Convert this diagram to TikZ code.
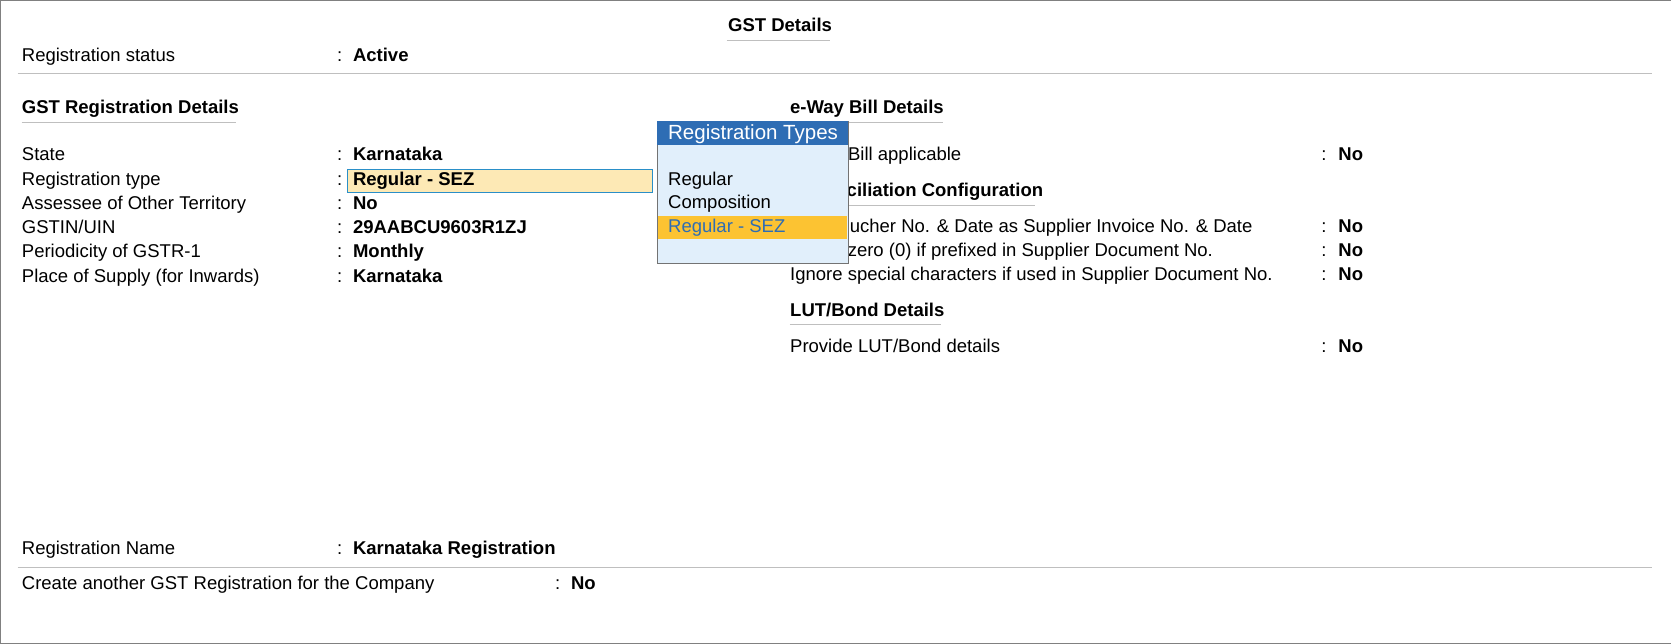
\documentclass[tikz,border=0pt]{standalone}
\usepackage{fontspec}
\setmainfont{Liberation Sans}
\definecolor{hdrblue}{HTML}{2E6DB4}
\definecolor{popbg}{HTML}{E1EFFB}
\definecolor{selbar}{HTML}{FCC332}
\definecolor{fieldbg}{HTML}{FDE9B5}
\definecolor{fieldline}{HTML}{2A8FC8}
\newcommand{\rulecol}{black!25}
\tikzset{
  lbl/.style={anchor=base west, inner sep=0pt, font=\fontsize{18.5}{22}\selectfont},
  val/.style={lbl, font=\fontsize{18.5}{22}\selectfont\bfseries},
  hd/.style={val}
}
\begin{document}
\begin{tikzpicture}[x=1pt, y=-1pt]

        \draw[draw=black!50, fill=white] (0.5, 0.5) rectangle (1670.5, 643.5);

        % title
        \node[hd] (title) at (728, 32) {GST Details};
        \draw[draw=\rulecol] (727, 40) -- (830, 40);

        \node[lbl] (st) at (22, 62) {Registration status};
        \node[lbl] (stc) at (337, 62) {:};
        \node[val] (stv) at (353, 62) {Active};
        \draw[draw=\rulecol] (18, 73) -- (1652, 73);

        % gauche
        \node[hd] (regh) at (22, 114) {GST Registration Details};
        \draw[draw=\rulecol] (22, 122) -- (236, 122);

        \draw[fill=fieldbg, draw=fieldline] (347, 169) rectangle (652, 192);

        \foreach \y/\t/\v [count=\i] in {161/State/Karnataka,
            186/Registration type/Regular - SEZ,
            210/Assessee of Other Territory/No,
            234/{GSTIN/UIN}/29AABCU9603R1ZJ,
            258/Periodicity of GSTR-1/Monthly,
            283/Place of Supply (for Inwards)/Karnataka} {
          \node[lbl] (l\i) at (22, \y) {\t};
          \node[lbl] (c\i) at (337, \y) {:};
          \node[val] (v\i) at (353, \y) {\v};
        }

        % droite
        \node[hd] (ewh) at (790, 114) {e-Way Bill Details};
        \draw[draw=\rulecol] (790, 122) -- (943, 122);
        \node[lbl] (ew) at (790, 161) {e-Way Bill applicable};
        \node[lbl] (ewc) at (1321, 161) {:};
        \node[val] (ewv) at (1338, 161) {No};

        \node[hd] (rch) at (790, 197) {Reconciliation Configuration};
        \draw[draw=\rulecol] (790, 205) -- (1035, 205);
        \foreach \y/\t [count=\i] in {233/Use Voucher No. \& Date as Supplier Invoice No. \& Date,
            257/Ignore zero (0) if prefixed in Supplier Document No.,
            281/Ignore special characters if used in Supplier Document No.} {
          \node[lbl] (r\i) at (790, \y) {\t};
          \node[lbl] (rc\i) at (1321, \y) {:};
          \node[val] (rv\i) at (1338, \y) {No};
        }

        \node[hd] (luth) at (790, 317) {LUT/Bond Details};
        \draw[draw=\rulecol] (790, 324) -- (941, 324);
        \node[lbl] (lut) at (790, 353) {Provide LUT/Bond details};
        \node[lbl] (lutc) at (1321, 353) {:};
        \node[val] (lutv) at (1338, 353) {No};

        % bas
        \node[lbl] (rn) at (22, 555) {Registration Name};
        \node[lbl] (rnc) at (337, 555) {:};
        \node[val] (rnv) at (353, 555) {Karnataka Registration};
        \draw[draw=\rulecol] (18, 567) -- (1652, 567);
        \node[lbl] (ca) at (22, 590) {Create another GST Registration for the Company};
        \node[lbl] (cac) at (555, 590) {:};
        \node[val] (cav) at (571, 590) {No};

        % liste
        \draw[fill=popbg, draw=black!55] (657, 121) rectangle (848, 263);
        \draw[fill=hdrblue, draw=none] (657, 121) rectangle (848, 145);
        \node[lbl, white, font=\fontsize{20.5}{24}\selectfont] (pt) at (668, 140) {Registration Types};
        \draw[fill=selbar, draw=none] (658, 216) rectangle (847, 239);
        \node[lbl] (p1) at (668, 186) {Regular};
        \node[lbl] (p2) at (668, 209) {Composition};
        \node[lbl, hdrblue] (p3) at (668, 233) {Regular - SEZ};

\end{tikzpicture}
\end{document}
